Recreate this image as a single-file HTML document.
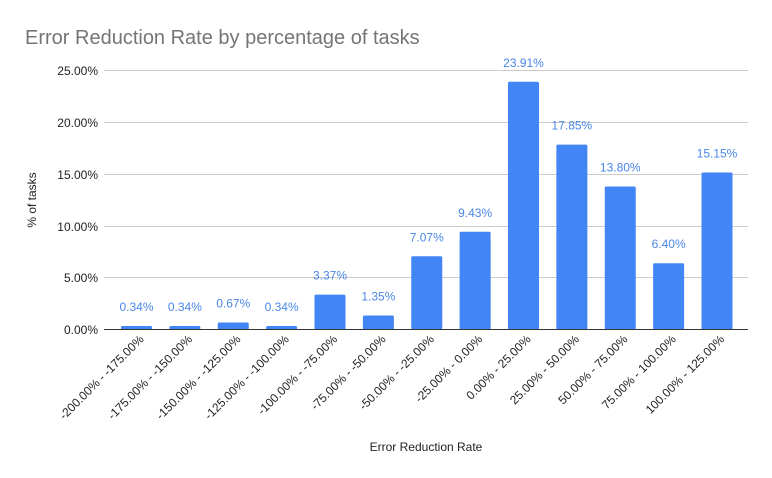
<!DOCTYPE html><html><head><style>body{margin:0;background:#fff}svg{display:block}text{font-family:"Liberation Sans",Arial,sans-serif}</style></head><body>
<svg width="772" height="478" xmlns="http://www.w3.org/2000/svg">
<text x="25" y="44" font-size="20" fill="#757575">Error Reduction Rate by percentage of tasks</text>
<g stroke="#cccccc" stroke-width="1">
<line x1="104" x2="748" y1="70.5" y2="70.5"/><line x1="104" x2="748" y1="122.5" y2="122.5"/><line x1="104" x2="748" y1="174.5" y2="174.5"/><line x1="104" x2="748" y1="226.5" y2="226.5"/><line x1="104" x2="748" y1="277.5" y2="277.5"/>
</g>
<g font-size="12" fill="#222" text-anchor="end">
<text x="98" y="75">25.00%</text><text x="98" y="127">20.00%</text><text x="98" y="179">15.00%</text><text x="98" y="231">10.00%</text><text x="98" y="282">5.00%</text><text x="98" y="334">0.00%</text>
</g>
<text transform="translate(36,200) rotate(-90)" font-size="12" fill="#222" text-anchor="middle">% of tasks</text>
<text x="426" y="451" font-size="12" fill="#222" text-anchor="middle">Error Reduction Rate</text>
<g id="bars" fill="#4285f4"></g>
<g id="vals" font-size="12" fill="#4a86e8" text-anchor="middle"></g>
<g id="xl" font-size="12" fill="#222" text-anchor="end"></g>
<line x1="104" x2="748" y1="329.5" y2="329.5" stroke="#333" stroke-width="1"/>
<script>
var v=[0.34,0.34,0.67,0.34,3.37,1.35,7.07,9.43,23.91,17.85,13.80,6.40,15.15];
var l=["-200.00% - -175.00%","-175.00% - -150.00%","-150.00% - -125.00%","-125.00% - -100.00%","-100.00% - -75.00%","-75.00% - -50.00%","-50.00% - -25.00%","-25.00% - 0.00%","0.00% - 25.00%","25.00% - 50.00%","50.00% - 75.00%","75.00% - 100.00%","100.00% - 125.00%"];
var ns="http://www.w3.org/2000/svg",b=document.getElementById("bars"),t=document.getElementById("vals"),x=document.getElementById("xl");
v.forEach(function(d,i){var c=136.5+48.375*i,h=d*10.36,y=329.5-h;
var r=document.createElementNS(ns,"rect");r.setAttribute("x",c-15.5);r.setAttribute("y",y);r.setAttribute("width",31);r.setAttribute("height",h);r.setAttribute("rx",1.5);b.appendChild(r);
var s=document.createElementNS(ns,"text");s.setAttribute("x",c);s.setAttribute("y",y-15);s.textContent=d.toFixed(2)+"%";t.appendChild(s);
var q=document.createElementNS(ns,"text");q.setAttribute("transform","translate("+(c+8)+",340) rotate(-45)");q.textContent=l[i];x.appendChild(q);});
</script>
</svg></body></html>
